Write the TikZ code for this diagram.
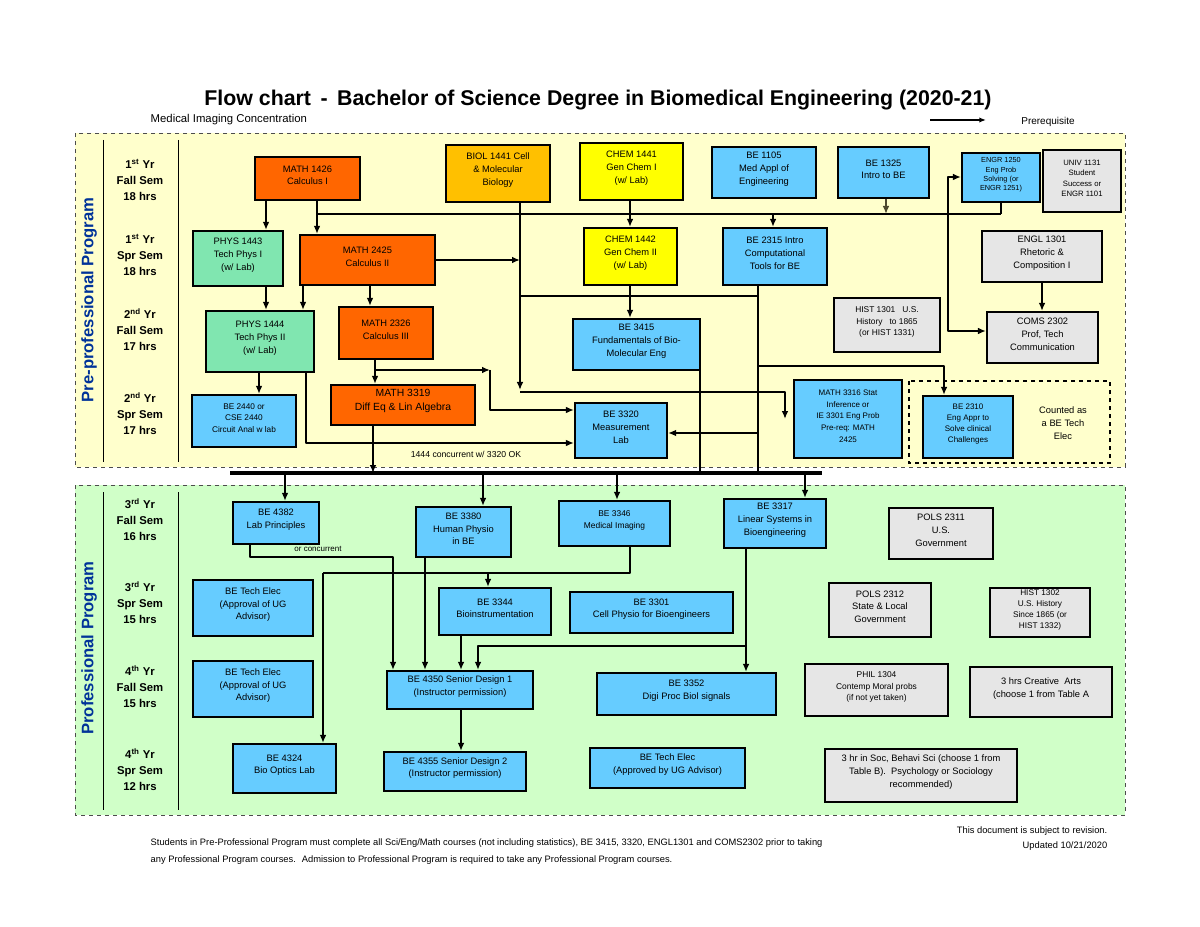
\documentclass[tikz,border=0pt]{standalone}
\usepackage{fontspec}
\setmainfont{Liberation Sans}
\usetikzlibrary{arrows.meta,fit}
\definecolor{preY}{RGB}{255,255,204}
\definecolor{proG}{RGB}{208,255,200}
\definecolor{cOr}{RGB}{255,102,0}
\definecolor{cGo}{RGB}{255,192,0}
\definecolor{cYe}{RGB}{255,255,0}
\definecolor{cBl}{RGB}{102,204,255}
\definecolor{cGr}{RGB}{128,230,176}
\definecolor{cGy}{RGB}{230,230,230}
\definecolor{progBlue}{RGB}{0,51,153}
\tikzset{
  box/.style={draw=black,line width=1.6pt,inner sep=0pt,align=center,font=\fontsize{7}{9.6}\selectfont},
  ln/.style={line width=1.3pt,line join=round},
  arr/.style={ln,-{Latex[length=6pt,width=5pt]}},
  sem/.style={font=\bfseries\fontsize{8.5}{12}\selectfont,align=center},
  region/.style={draw=black!70,dashed,line width=0.6pt}
}
\newcommand{\bx}[7]{\node[box,fill=#6,fit={(#2,#3) (#4,#5)}] (#1) {#7};}
\begin{document}
\begin{tikzpicture}[x=0.75pt,y=-0.75pt]
\useasboundingbox (0,0) rectangle (1200,927);
\fill[white] (0,0) rectangle (1200,927);
% title
\node[font=\bfseries\fontsize{16}{18}\selectfont] (title) at (598,100) {Flow chart \,-\, Bachelor of Science Degree in Biomedical Engineering (2020-21)};
\node[anchor=west,font=\fontsize{8.5}{10}\selectfont] (conc) at (146,120) {Medical Imaging Concentration};
\coordinate (pa) at (930,120); \coordinate (pb) at (986,120);
\draw[ln,-{Latex[length=5pt,width=4pt]}] (pa) -- (pb);
\node[font=\fontsize{7.5}{9}\selectfont] (prq) at (1048,122) {Prerequisite};
% regions
\fill[preY] (75,133) rectangle (1125,467);
\draw[region] (75,133) rectangle (1125,467);
\fill[proG] (75,485) rectangle (1125,815);
\draw[region] (75,485) rectangle (1125,815);
\draw[line width=0.6pt] (103,140) -- (103,462) (178,140) -- (178,462);
\draw[line width=0.6pt] (103,492) -- (103,810) (178,492) -- (178,810);
\node[rotate=90,text=progBlue,font=\bfseries\fontsize{12.5}{14}\selectfont] (pp) at (89,300) {Pre-professional Program};
\node[rotate=90,text=progBlue,font=\bfseries\fontsize{12.5}{14}\selectfont] (pr) at (89,648) {Professional Program};
% semesters
\node[sem] (s1) at (140,180) {1\textsuperscript{st} Yr\\Fall Sem\\18 hrs};
\node[sem] (s2) at (140,255) {1\textsuperscript{st} Yr\\Spr Sem\\18 hrs};
\node[sem] (s3) at (140,330) {2\textsuperscript{nd} Yr\\Fall Sem\\17 hrs};
\node[sem] (s4) at (140,414) {2\textsuperscript{nd} Yr\\Spr Sem\\17 hrs};
\node[sem] (s5) at (140,520) {3\textsuperscript{rd} Yr\\Fall Sem\\16 hrs};
\node[sem] (s6) at (140,603) {3\textsuperscript{rd} Yr\\Spr Sem\\15 hrs};
\node[sem] (s7) at (140,687) {4\textsuperscript{th} Yr\\Fall Sem\\15 hrs};
\node[sem] (s8) at (140,770) {4\textsuperscript{th} Yr\\Spr Sem\\12 hrs};
% pre-professional boxes
\bx{m1426}{255}{157}{360}{200}{cOr}{MATH 1426\\Calculus I}
\bx{b1441}{446}{145}{550}{202}{cGo}{BIOL 1441 Cell\\\& Molecular\\Biology}
\bx{c1441}{580}{143}{683}{200}{cYe}{CHEM 1441\\Gen Chem I\\(w/ Lab)}
\bx{be1105}{712}{147}{816}{198}{cBl}{BE 1105\\Med Appl of\\Engineering}
\bx{be1325}{838}{147}{929}{198}{cBl}{BE 1325\\Intro to BE}
\node[box,fill=cBl,fit={(962,153) (1040,202)},font=\fontsize{5.5}{7}\selectfont] (e1250) {ENGR 1250\\Eng Prob\\Solving (or\\ENGR 1251)};
\node[box,fill=cGy,fit={(1043,150) (1121,212)},font=\fontsize{5.8}{7.6}\selectfont] (u1131) {UNIV 1131\\Student\\Success or\\ENGR 1101};
\bx{p1443}{193}{231}{283}{286}{cGr}{PHYS 1443\\Tech Phys I\\(w/ Lab)}
\bx{m2425}{300}{235}{435}{285}{cOr}{MATH 2425\\Calculus II}
\bx{c1442}{584}{228}{677}{285}{cYe}{CHEM 1442\\Gen Chem II\\(w/ Lab)}
\bx{be2315}{723}{228}{827}{285}{cBl}{BE 2315 Intro\\Computational\\Tools for BE}
\bx{en1301}{982}{231}{1102}{282}{cGy}{ENGL 1301\\Rhetoric \&\\Composition I}
\bx{p1444}{206}{311}{314}{372}{cGr}{PHYS 1444\\Tech Phys II\\(w/ Lab)}
\bx{m2326}{339}{307}{433}{359}{cOr}{MATH 2326\\Calculus III}
\bx{be3415}{573}{319}{700}{370}{cBl}{BE 3415\\Fundamentals of Bio-\\Molecular Eng}
\node[box,fill=cGy,fit={(834,298) (940,352)},font=\fontsize{6.3}{8.5}\selectfont] (h1301) {HIST 1301 \ \ U.S.\\History \ \ to 1865\\(or HIST 1331)};
\bx{co2302}{987}{312}{1098}{363}{cGy}{COMS 2302\\Prof, Tech\\Communication}
\node[box,fill=cBl,fit={(192,395) (296,447)},font=\fontsize{6.2}{8.5}\selectfont] (be2440) {BE 2440 or\\CSE 2440\\Circuit Anal w lab};
\node[box,fill=cOr,fit={(331,385) (475,425)},font=\fontsize{7.8}{10.5}\selectfont] (m3319) {MATH 3319\\Diff Eq \& Lin Algebra};
\bx{be3320}{575}{403}{667}{458}{cBl}{BE 3320\\Measurement\\Lab}
\node[box,fill=cBl,fit={(794,380) (902,458)},font=\fontsize{6}{8.7}\selectfont] (m3316) {MATH 3316 Stat\\Inference or\\IE 3301 Eng Prob\\Pre-req: MATH\\2425};
\draw[line width=1.3pt,dashed] (909,381) rectangle (1110,463);
\node[box,fill=cBl,fit={(923,396) (1013,458)},font=\fontsize{6}{8.3}\selectfont] (be2310) {BE 2310\\Eng Appr to\\Solve clinical\\Challenges};
\node[align=center,font=\fontsize{7}{10}\selectfont] (cnt) at (1063,423) {Counted as\\a BE Tech\\Elec};
\node[font=\fontsize{6.5}{8}\selectfont] (conc1444) at (466,454) {1444 concurrent w/ 3320 OK};
% professional boxes
\bx{be4382}{233}{502}{319}{544}{cBl}{BE 4382\\Lab Principles}
\node[font=\fontsize{6}{7}\selectfont] (orc) at (318,549) {or concurrent};
\bx{be3380}{416}{507}{511}{557}{cBl}{BE 3380\\Human Physio\\in BE}
\node[box,fill=cBl,fit={(559,501) (670,546)},font=\fontsize{6.3}{9}\selectfont] (be3346) {BE 3346\\Medical Imaging};
\bx{be3317}{724}{499}{826}{548}{cBl}{BE 3317\\Linear Systems in\\Bioengineering}
\bx{po2311}{889}{508}{993}{559}{cGy}{POLS 2311\\U.S.\\Government}
\bx{te1}{193}{580}{313}{636}{cBl}{BE Tech Elec\\(Approval of UG\\Advisor)}
\bx{be3344}{439}{588}{551}{635}{cBl}{BE 3344\\Bioinstrumentation}
\bx{be3301}{570}{592}{733}{633}{cBl}{BE 3301\\Cell Physio for Bioengineers}
\bx{po2312}{829}{583}{931}{637}{cGy}{POLS 2312\\State \& Local\\Government}
\node[box,fill=cGy,fit={(990,588) (1090,637)},font=\fontsize{6.2}{8.2}\selectfont] (h1302) {HIST 1302\\U.S. History\\Since 1865 (or\\HIST 1332)};
\bx{te2}{193}{661}{313}{717}{cBl}{BE Tech Elec\\(Approval of UG\\Advisor)}
\bx{be4350}{387}{671}{533}{709}{cBl}{BE 4350 Senior Design 1\\(Instructor permission)}
\bx{be3352}{597}{673}{776}{715}{cBl}{BE 3352\\Digi Proc Biol signals}
\node[box,fill=cGy,fit={(805,664) (948,716)},font=\fontsize{6.3}{8.5}\selectfont] (ph1304) {PHIL 1304\\Contemp Moral probs\\(if not yet taken)};
\bx{cre}{970}{667}{1112}{717}{cGy}{3 hrs Creative \ Arts\\(choose 1 from Table A}
\bx{be4324}{233}{744}{336}{793}{cBl}{BE 4324\\Bio Optics Lab}
\bx{be4355}{384}{752}{526}{791}{cBl}{BE 4355 Senior Design 2\\(Instructor permission)}
\bx{te3}{590}{748}{745}{788}{cBl}{BE Tech Elec\\(Approved by UG Advisor)}
\bx{soc}{825}{749}{1017}{802}{cGy}{3 hr in Soc, Behavi Sci (choose 1 from\\Table B). \ Psychology or Sociology\\recommended)}
% pre-professional connectors
\draw[arr] (266,0 |- m1426.south) -- (266,0 |- p1443.north);
\draw[arr] (317,0 |- m1426.south) -- (317,0 |- m2425.north);
\coordinate (busA) at (317,214); \coordinate (busB) at (1001,214);
\draw[ln] (busA) -- (busB);
\draw[ln] (e1250.south -| busB) -- (busB);
\draw[arr] (773,214) -- (773,0 |- be2315.north);
\draw[arr,draw=black!60!olive] (886,0 |- be1325.south) -- (886,214);
\draw[arr] (630,0 |- c1441.south) -- (630,0 |- c1442.north);
\draw[arr] (630,0 |- c1442.south) -- (630,0 |- be3415.north);
\draw[arr] (948,214) -- (948,177) -- (948,177 -| e1250.west);
\draw[arr] (948,214) -- (948,331) -- (948,331 -| co2302.west);
\draw[arr] (1042,0 |- en1301.south) -- (1042,0 |- co2302.north);
\draw[arr] (520,0 |- b1441.south) -- (520,390);
\draw[arr] (m2425.east |- 0,260) -- (520,260);
\draw[ln] (520,296) -- (758,296);
\draw[ln] (758,0 |- be2315.south) -- (758,473);
\draw[arr] (758,366) -- (944,366) -- (944,0 |- be2310.north);
\draw[arr] (520,392) -- (700,392) -- (785,392) -- (785,0 |- m3316.west);
\draw[ln] (700,0 |- be3415.south) -- (700,473);
\draw[arr] (758,433) -- (be3320.east |- 0,433);
\draw[arr] (266,0 |- p1443.south) -- (266,0 |- p1444.north);
\draw[arr] (303,0 |- m2425.south) -- (303,0 |- p1444.north);
\draw[arr] (370,0 |- m2425.south) -- (370,0 |- m2326.north);
\draw[arr] (259,0 |- p1444.south) -- (259,0 |- be2440.north);
\draw[arr] (306,0 |- p1444.south) -- (306,443) -- (be3320.west |- 0,443);
\draw[arr] (375,0 |- m2326.south) -- (375,0 |- m3319.north);
\draw[arr] (375,370) -- (490,370);
\draw[arr] (490,370) -- (490,410) -- (be3320.west |- 0,410);
\draw[arr] (373,0 |- m3319.south) -- (373,473);
% bus to professional
\draw[line width=2.6pt] (230,473) -- (822,473);
\draw[arr] (285,473) -- (285,0 |- be4382.north);
\draw[arr,line width=1.8pt] (483,473) -- (483,0 |- be3380.north);
\draw[arr] (617,473) -- (617,0 |- be3346.north);
\draw[arr] (805,473) -- (805,0 |- be3317.north);
% professional connectors
\draw[arr] (250,0 |- be4382.south) -- (250,557) -- (393,557) -- (393,0 |- be4350.north);
\draw[arr] (425,0 |- be3380.south) -- (425,0 |- be4350.north);
\draw[ln] (630,0 |- be3346.south) -- (630,573) -- (323,573);
\draw[arr] (323,573) -- (323,0 |- be4324.north);
\draw[arr] (488,573) -- (488,0 |- be3344.north);
\draw[arr] (461,0 |- be3344.south) -- (461,0 |- be4350.north);
\draw[arr] (746,0 |- be3317.south) -- (746,0 |- be3352.north);
\draw[arr] (746,646) -- (478,646) -- (478,0 |- be4350.north);
\draw[arr] (461,0 |- be4350.south) -- (461,0 |- be4355.north);
% footnotes
\node[anchor=north west,align=left,font=\fontsize{7}{12.5}\selectfont] (fn) at (146,834) {Students in Pre-Professional Program must complete all Sci/Eng/Math courses (not including statistics), BE 3415, 3320, ENGL1301 and COMS2302 prior to taking\\any Professional Program courses. \ Admission to Professional Program is required to take any Professional Program courses.};
\node[anchor=north east,align=right,font=\fontsize{7}{11}\selectfont] (rev) at (1112,822) {This document is subject to revision.\\Updated 10/21/2020};
\end{tikzpicture}
\end{document}
